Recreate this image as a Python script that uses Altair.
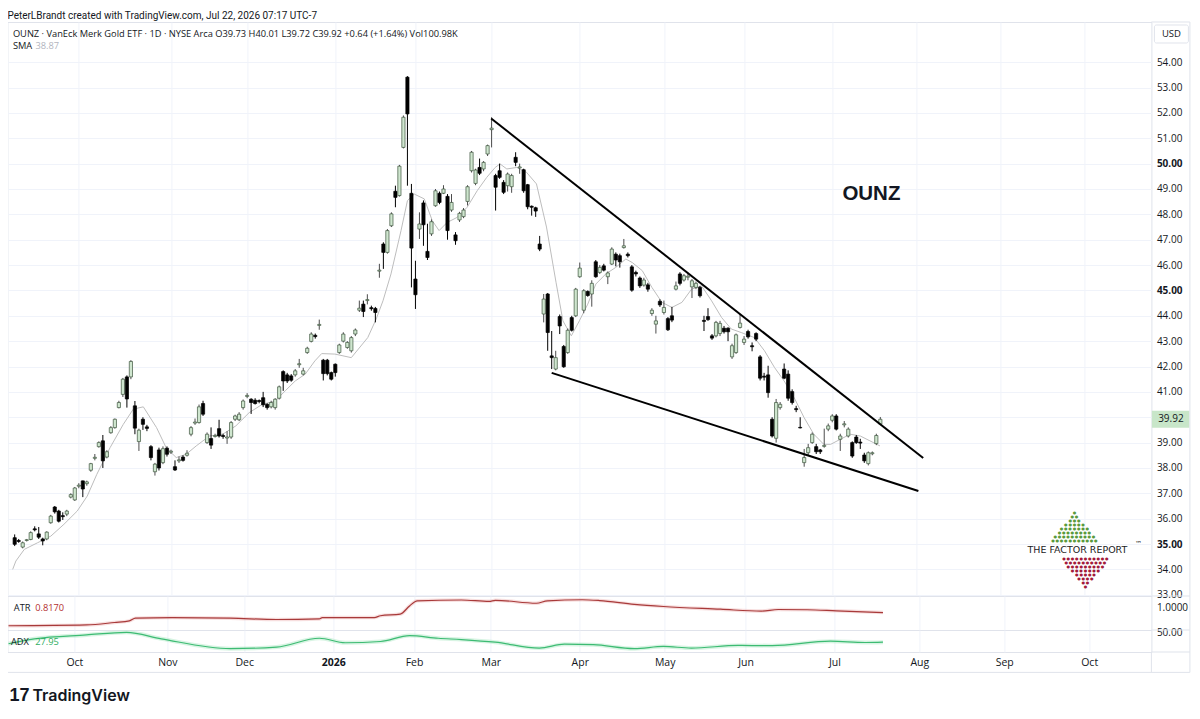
import altair as alt
import pandas as pd

# ---------------- data ----------------
FIRST_BAR = -16  # bar index; 0 = first trading day of October 2025

opens = [
    35.25, 35.14, 34.88, 35.14, 35.18, 35.60, 35.40, 35.20, 35.20, 35.84,
    36.46, 36.30, 36.12, 36.18, 36.85, 36.74, 37.28, 37.49, 37.38, 37.91,
    38.38, 38.84, 39.07, 38.43, 39.39, 39.59, 40.38, 40.90, 41.59, 41.59,
    40.45, 39.04, 39.92, 39.62, 38.84, 37.85, 38.71, 38.21, 38.78, 38.62,
    38.05, 38.28, 38.43, 38.50, 39.33, 39.77, 39.79, 40.54, 39.00, 39.16,
    39.24, 39.55, 39.28, 39.18, 39.22, 39.92, 39.90, 40.38, 40.82, 40.71,
    40.67, 40.66, 40.77, 40.51, 40.41, 40.38, 40.75, 41.80, 41.67, 41.63,
    41.67, 42.07, 41.70, 42.55, 42.99, 43.23, 43.62, 42.25, 42.25, 41.76,
    42.09, 42.55, 43.00, 42.75, 42.62, 43.28, 44.22, 44.46, 44.60, 44.32,
    44.29, 45.76, 46.83, 46.50, 47.55, 48.91, 48.74, 50.64, 53.41, 48.83,
    45.45, 47.42, 48.45, 46.54, 47.23, 48.34, 48.83, 48.83, 48.71, 48.17,
    47.19, 47.78, 47.91, 48.51, 49.72, 49.22, 49.85, 49.79, 50.38, 51.34,
    49.53, 49.72, 49.26, 49.13, 49.09, 50.25, 49.83, 49.76, 49.17, 48.32,
    48.26, 46.83, 44.07, 44.86, 42.42, 41.90, 43.97, 42.79, 42.55, 43.93,
    44.00, 45.54, 44.22, 44.96, 44.86, 46.13, 45.71, 45.97, 45.54, 46.04,
    46.43, 46.37, 46.69, 46.43, 45.93, 45.71, 45.49, 45.21, 45.22, 44.09,
    43.67, 44.57, 44.13, 43.89, 44.00, 45.05, 45.65, 45.41, 45.52, 45.14,
    45.12, 45.12, 43.82, 43.97, 43.21, 43.21, 43.30, 43.51, 43.51, 42.38,
    42.55, 43.54, 42.95, 43.38, 42.82, 43.30, 42.38, 41.62, 41.67, 39.92,
    39.17, 40.38, 41.90, 41.70, 41.01, 40.34, 39.60, 38.21, 38.60, 39.00,
    38.84, 38.71, 38.85, 39.53, 39.88, 40.05, 39.13, 39.70, 39.26, 39.00,
    39.22, 39.02, 38.51, 38.17, 38.56, 38.96, 39.73,
]
highs = [
    35.38, 35.20, 35.10, 35.20, 35.50, 35.70, 35.67, 35.25, 35.50, 36.15,
    36.50, 36.35, 36.25, 36.35, 37.00, 37.25, 37.40, 37.50, 37.50, 38.20,
    38.55, 39.05, 39.30, 38.70, 39.65, 39.95, 40.65, 41.55, 41.65, 42.25,
    40.64, 39.55, 40.00, 39.70, 38.90, 38.20, 38.80, 38.85, 38.85, 38.72,
    38.30, 38.45, 38.50, 38.70, 39.65, 39.95, 40.50, 40.65, 39.40, 39.60,
    39.35, 39.90, 39.35, 39.45, 39.85, 40.10, 40.20, 40.70, 40.95, 40.75,
    40.75, 40.70, 41.00, 40.55, 40.65, 40.75, 41.25, 41.85, 41.75, 41.70,
    41.90, 42.30, 41.95, 42.78, 43.35, 43.30, 43.85, 42.30, 42.30, 41.80,
    42.12, 42.90, 43.35, 43.00, 43.20, 43.50, 44.60, 44.60, 44.85, 44.40,
    44.35, 46.05, 46.90, 47.42, 48.08, 49.13, 49.95, 51.90, 53.45, 49.20,
    46.17, 48.08, 48.55, 47.63, 47.80, 49.00, 48.90, 49.15, 48.80, 48.80,
    47.30, 48.10, 48.25, 49.15, 50.50, 49.80, 50.20, 50.10, 50.75, 51.83,
    49.60, 50.00, 49.35, 49.65, 49.60, 50.45, 50.00, 49.80, 49.20, 48.35,
    48.30, 47.15, 44.86, 44.90, 43.40, 42.62, 44.05, 42.85, 43.50, 44.00,
    45.10, 46.10, 45.05, 45.00, 45.40, 46.20, 46.00, 46.05, 45.75, 46.70,
    46.50, 46.45, 47.03, 46.50, 46.00, 45.78, 45.55, 45.50, 45.30, 44.30,
    44.00, 44.65, 44.60, 43.95, 44.35, 45.35, 45.72, 45.65, 45.70, 45.45,
    45.35, 45.18, 44.00, 44.30, 43.28, 43.80, 43.80, 43.60, 43.55, 42.90,
    43.30, 44.07, 43.20, 43.45, 42.95, 43.35, 42.45, 41.75, 42.03, 40.00,
    40.72, 40.60, 42.12, 41.85, 41.10, 40.45, 40.00, 38.75, 38.95, 39.40,
    38.95, 38.75, 39.55, 39.75, 40.12, 40.12, 39.35, 39.85, 39.60, 39.05,
    39.30, 39.15, 38.60, 38.65, 38.65, 39.35, 40.01,
]
lows = [
    34.92, 35.05, 34.83, 35.10, 35.15, 35.50, 35.20, 34.95, 35.15, 35.80,
    36.20, 35.85, 35.95, 36.10, 36.80, 36.70, 37.20, 36.85, 37.30, 37.85,
    38.30, 38.80, 38.00, 38.38, 39.35, 39.55, 40.35, 40.80, 40.38, 41.50,
    39.33, 38.67, 39.50, 39.45, 38.30, 37.70, 37.90, 38.15, 38.45, 38.55,
    37.88, 38.20, 38.25, 38.45, 39.25, 39.70, 39.75, 40.05, 38.95, 38.75,
    39.20, 39.20, 39.15, 38.95, 39.15, 39.85, 39.85, 40.30, 40.75, 40.13,
    40.50, 40.55, 40.40, 40.30, 40.35, 40.30, 40.70, 41.04, 41.35, 41.40,
    41.60, 41.95, 41.65, 42.50, 42.95, 43.10, 43.45, 41.45, 41.65, 41.45,
    41.60, 42.50, 42.95, 42.70, 42.55, 43.20, 44.15, 43.95, 44.45, 44.20,
    43.74, 45.50, 45.85, 46.45, 47.50, 48.28, 48.70, 50.60, 49.13, 45.12,
    44.27, 47.03, 46.76, 46.20, 47.15, 48.30, 48.40, 48.80, 47.00, 48.10,
    46.80, 47.70, 47.85, 48.35, 49.65, 49.15, 49.55, 49.70, 50.30, 50.64,
    48.15, 49.40, 48.80, 48.90, 48.85, 49.90, 49.60, 48.85, 48.20, 47.95,
    47.90, 46.55, 43.74, 42.62, 41.90, 41.85, 43.28, 41.95, 42.50, 43.38,
    43.95, 45.50, 44.10, 44.75, 44.36, 45.50, 45.65, 45.75, 45.25, 46.00,
    45.95, 45.90, 46.65, 46.30, 44.95, 45.55, 45.10, 45.15, 44.95, 44.00,
    43.30, 44.35, 44.05, 43.40, 43.75, 45.00, 45.20, 45.35, 45.40, 44.70,
    45.05, 44.72, 43.40, 43.80, 43.05, 43.15, 43.20, 43.30, 43.00, 42.30,
    42.50, 43.50, 42.85, 43.10, 42.60, 43.00, 41.45, 41.45, 40.77, 39.20,
    39.00, 40.30, 41.50, 40.65, 40.50, 40.20, 39.56, 38.05, 38.50, 38.95,
    38.55, 38.55, 38.80, 39.45, 39.80, 39.48, 38.67, 39.60, 39.20, 38.40,
    38.95, 38.75, 38.20, 38.10, 38.50, 38.90, 39.72,
]
closes = [
    34.99, 35.10, 35.05, 35.17, 35.45, 35.56, 35.27, 35.12, 35.47, 36.10,
    36.27, 35.90, 36.08, 36.30, 36.95, 37.21, 37.32, 37.17, 37.45, 38.17,
    38.42, 39.00, 38.28, 38.64, 39.59, 39.92, 40.58, 41.50, 40.72, 42.20,
    39.57, 39.49, 39.72, 39.56, 38.41, 38.15, 38.00, 38.76, 38.54, 38.66,
    37.92, 38.32, 38.30, 38.58, 39.59, 39.81, 40.41, 40.12, 39.33, 38.90,
    39.28, 39.26, 39.24, 39.22, 39.79, 40.05, 40.12, 40.64, 40.86, 40.58,
    40.54, 40.62, 40.49, 40.38, 40.58, 40.71, 41.20, 41.43, 41.43, 41.46,
    41.83, 42.11, 41.83, 42.72, 43.28, 43.18, 43.66, 41.72, 41.72, 41.50,
    41.76, 42.85, 43.28, 42.95, 43.14, 43.44, 44.30, 44.17, 44.64, 44.28,
    44.13, 45.80, 46.50, 47.36, 48.02, 48.67, 49.90, 51.83, 51.96, 46.67,
    44.83, 47.62, 47.59, 46.30, 47.71, 48.93, 48.47, 49.00, 47.36, 48.47,
    46.96, 48.04, 48.17, 49.09, 50.45, 49.75, 49.62, 50.05, 50.71, 51.40,
    49.07, 49.46, 48.87, 49.59, 49.53, 50.05, 49.87, 48.93, 48.30, 48.28,
    48.13, 46.63, 44.66, 43.34, 42.35, 42.35, 43.60, 41.99, 43.43, 43.43,
    45.05, 45.88, 44.99, 44.80, 45.28, 45.54, 45.91, 45.80, 45.69, 46.63,
    46.20, 46.13, 46.76, 46.37, 45.01, 45.65, 45.18, 45.41, 45.05, 44.22,
    43.80, 44.43, 44.33, 43.45, 43.83, 45.18, 45.28, 45.58, 45.56, 45.38,
    45.28, 44.79, 43.78, 43.85, 43.12, 43.74, 43.70, 43.37, 43.37, 42.82,
    43.25, 43.71, 43.08, 43.17, 42.78, 43.08, 41.54, 41.58, 40.97, 39.26,
    40.58, 40.51, 41.54, 40.75, 40.58, 40.30, 39.58, 38.41, 38.80, 39.33,
    38.64, 38.64, 38.89, 39.66, 40.05, 39.53, 39.26, 39.74, 39.53, 38.47,
    39.00, 38.98, 38.28, 38.60, 38.60, 39.28, 39.92,
]

# SMA (bar position, value)
sma_k = [-16.5, -15.7, -13.6, -10.3, -7.0, -3.7, -0.4, 2.1, 4.5, 7.8,
         11.1, 13.6, 16.1, 19.4, 21.8, 24.3, 26.8, 29.3, 32.6, 35.9,
         39.2, 42.5, 45.8, 49.0, 51.5, 54.0, 56.5, 58.9, 60.6, 63.9,
         68.0, 72.1, 74.2, 75.9, 77.9, 80.4, 82.0, 83.7, 86.2, 88.2,
         89.9, 91.9, 94.4, 96.9, 99.4, 101.8, 103.9, 105.1, 106.8, 109.3,
         111.7, 114.2, 116.7, 119.1, 120.8, 122.9, 124.9, 127.0, 129.0, 131.5,
         134.0, 136.5, 138.1, 140.6, 143.0, 145.5, 148.0, 150.5, 152.9, 155.4,
         157.9, 160.4, 162.8, 165.3, 168.6, 171.1, 173.6, 176.0, 178.5, 181.0,
         183.4, 185.9, 187.6, 190.0, 192.5, 195.0, 197.4, 199.9]
sma_v = [34.00, 34.33, 34.79, 35.05, 35.31, 35.78, 36.30, 36.89, 37.75, 38.80,
         39.72, 40.32, 40.41, 39.59, 38.80, 38.41, 38.54, 38.87, 39.26, 39.33,
         39.66, 40.18, 40.51, 40.64, 41.04, 41.43, 41.70, 42.22, 42.51, 42.49,
         42.35, 43.14, 43.87, 44.59, 45.65, 47.36, 48.54, 48.80, 48.61, 47.75,
         47.36, 47.68, 47.88, 48.28, 48.93, 49.46, 49.85, 49.99, 49.79, 49.85,
         49.66, 49.20, 47.50, 45.30, 43.80, 43.21, 43.80, 44.46, 45.25, 45.65,
         45.91, 46.24, 46.10, 45.78, 45.12, 44.53, 44.33, 44.53, 45.05, 45.18,
         44.59, 43.93, 43.48, 43.34, 43.14, 42.62, 41.96, 41.43, 40.77, 39.98,
         39.33, 38.93, 38.93, 39.13, 39.33, 39.26, 39.07, 38.87]

atr_k = [-16.3, 3.0, 9.9, 13.6, 15.1, 24.2, 38.6, 50.0, 60.6, 61.3,
         74.2, 75.7, 80.6, 82.9, 84.8, 95.7, 102.6, 104.1, 114.3, 117.0,
         125.6, 129.9, 138.5, 145.7, 159.8, 169.9, 174.1, 181.3, 188.5, 200.0]
atr_v = [0.33, 0.36, 0.45, 0.51, 0.61, 0.63, 0.61, 0.56, 0.58, 0.63,
         0.63, 0.70, 0.76, 1.06, 1.25, 1.28, 1.23, 1.27, 1.16, 1.25,
         1.29, 1.26, 1.12, 1.04, 0.94, 0.87, 0.93, 0.92, 0.88, 0.817]

adx_k = [-16.3, -9.9, 3.0, 12.9, 21.5, 38.6, 50.0, 60.6, 67.0, 75.7,
         82.9, 90.0, 95.7, 104.1, 115.0, 121.2, 128.4, 138.5, 145.7, 152.6,
         164.2, 172.6, 187.0, 195.6, 200.0]
adx_v = [24.5, 35.5, 44.3, 50.0, 35.5, 13.5, 17.0, 36.8, 26.7, 29.5,
         42.7, 36.8, 33.9, 28.0, 14.8, 23.6, 22.3, 13.5, 18.5, 14.8,
         20.7, 20.1, 30.2, 27.3, 27.95]

# falling-wedge trend lines drawn on the chart
upper_k = [102.9, 210.7]
upper_p = [51.78, 38.39]
lower_k = [118.0, 209.5]
lower_p = [41.75, 37.09]

month_pos = [0, 23, 42, 64, 84, 103, 125, 146, 166, 188, 209, 230, 251]
month_lbl = ["Oct", "Nov", "Dec", "2026", "Feb", "Mar", "Apr", "May", "Jun",
             "Jul", "Aug", "Sep", "Oct"]
price_ticks = list(range(33, 55))

# ---------------- style ----------------
FONT = "Open Sans"
TXT = "#131722"
GRID = "#f0f3fa"
BORDER = "#e0e3eb"
UP_FILL = "#cfe6cf"
UP_EDGE = "#3d553d"
DOWN = "#000000"

W = 1144
H_PRICE = 574
H_ATR = 34
H_ADX = 22
RIGHT = 1182.5

bars = pd.DataFrame({
    "k": list(range(FIRST_BAR, FIRST_BAR + len(opens))),
    "o": opens, "h": highs, "l": lows, "c": closes,
})
sma = pd.DataFrame({"k": sma_k, "v": sma_v})
atr = pd.DataFrame({"k": atr_k, "v": atr_v})
adx = pd.DataFrame({"k": adx_k, "v": adx_v})
trend = pd.DataFrame({
    "k": upper_k + lower_k,
    "p": upper_p + lower_p,
    "line": ["upper"] * len(upper_k) + ["lower"] * len(lower_k),
})
one = pd.DataFrame({"a": [0]})

xscale = alt.Scale(domain=[-16.57, 266.39], nice=False, zero=False)
x_grid_axis = alt.Axis(values=month_pos, grid=True, gridColor=GRID, labels=False,
                       ticks=False, domain=False, title=None)
lbl_expr = "[" + ",".join("'%s'" % m for m in month_lbl) + "][indexof([" + \
    ",".join(str(p) for p in month_pos) + "], datum.value)]"
x_label_axis = alt.Axis(
    values=month_pos, grid=True, gridColor=GRID, ticks=False, domain=False,
    labelExpr=lbl_expr, labelPadding=11, labelBaseline="middle",
    labelFont=FONT, labelFontSize=10.5, labelColor=TXT, labelFlush=False,
    labelOverlap=False, title=None,
    labelFontWeight={"condition": {"test": "datum.value == 64", "value": "bold"},
                     "value": "normal"},
)


def X(axis, field="k"):
    return alt.X(f"{field}:Q", scale=xscale, axis=axis)


yscale_p = alt.Scale(domain=[32.951, 55.585], nice=False, zero=False)
y_price_axis = alt.Axis(
    orient="right", values=price_ticks, grid=True, gridColor=GRID, ticks=False,
    domain=False, labelPadding=5, labelFont=FONT, labelFontSize=10,
    labelColor=TXT, labelFlush=False, labelOverlap=False, title=None,
    labelExpr="datum.value == 40 ? '' : format(datum.value, '.2f')",
    labelFontWeight={"condition": {"test": "datum.value % 5 == 0", "value": "bold"},
                     "value": "normal"},
)


def YP(field):
    return alt.Y(f"{field}:Q", scale=yscale_p, axis=y_price_axis)


up = alt.datum.c >= alt.datum.o


def text_layer(txt, x, y, size=10, color=TXT, weight="normal", align="left",
               font=FONT, baseline="middle"):
    return alt.Chart(one).mark_text(
        align=align, baseline=baseline, font=font, fontSize=size,
        fontWeight=weight, color=color,
    ).encode(x=alt.value(x), y=alt.value(y), text=alt.value(txt))


def hrule(x1, x2, y, color=BORDER):
    return alt.Chart(one).mark_rule(color=color, strokeWidth=1).encode(
        x=alt.value(x1), x2=alt.value(x2), y=alt.value(y))


def vrule(x, y1, y2, color=BORDER):
    return alt.Chart(one).mark_rule(color=color, strokeWidth=1).encode(
        x=alt.value(x), y=alt.value(y1), y2=alt.value(y2))


# ---------------- price pane ----------------
sma_line = alt.Chart(sma).mark_line(color="#bdbdbd", strokeWidth=1).encode(
    x=X(x_grid_axis), y=YP("v"))
wicks = alt.Chart(bars).mark_rule(strokeWidth=1).encode(
    x=X(x_grid_axis), y=YP("l"), y2="h:Q",
    color=alt.condition(up, alt.value("#4b4b4b"), alt.value(DOWN)))
bodies = alt.Chart(bars).mark_bar(size=3.2, strokeWidth=0.7).encode(
    x=X(x_grid_axis), y=YP("o"), y2="c:Q",
    fill=alt.condition(up, alt.value(UP_FILL), alt.value(DOWN)),
    stroke=alt.condition(up, alt.value(UP_EDGE), alt.value(DOWN)))
wedge = alt.Chart(trend).mark_line(color="#000000", strokeWidth=2).encode(
    x=X(x_grid_axis), y=YP("p"), detail="line:N")

last_close = closes[-1]
badge = alt.Chart(one).mark_rect(color="#c8e6c9").encode(
    x=alt.value(W + 0.5), x2=alt.value(W + 38),
    y=alt.Y(datum=last_close + 0.335, scale=yscale_p, axis=y_price_axis),
    y2=alt.Y2(datum=last_close - 0.335))
badge_txt = alt.Chart(one).mark_text(
    font=FONT, fontSize=10, color=TXT, align="center", baseline="middle").encode(
    x=alt.value(W + 19.5),
    y=alt.Y(datum=last_close, scale=yscale_p, axis=y_price_axis),
    text=alt.value(f"{last_close:.2f}"))

usd_box = alt.Chart(one).mark_rect(fill="white", stroke=BORDER, strokeWidth=1,
                                   cornerRadius=2).encode(
    x=alt.value(1147), x2=alt.value(1181), y=alt.value(3), y2=alt.value(21))
usd_txt = text_layer("USD", 1164, 12, size=9.5, align="center")

header = text_layer(
    "PeterLBrandt created with TradingView.com, Jul 22, 2026 07:17 UTC-7",
    0, -3.5, size=10, baseline="alphabetic", font="Roboto")
legend1 = text_layer(
    "OUNZ · VanEck Merk Gold ETF · 1D · NYSE Arca   O39.73  H40.01  L39.72  "
    "C39.92  +0.64 (+1.64%)  Vol100.98K", 5.5, 12, size=9.3)
legend2 = text_layer("SMA", 5.5, 24, size=9.3)
legend3 = text_layer("38.87", 28, 24, size=9.3, color="#b2b5be")
ounz = text_layer("OUNZ", 864, 172, size=20.5, weight="bold",
                  align="center", font="Liberation Sans")

# Factor Report logo (decoration): two dot pyramids and the wordmark
DOT = "●\u2009"
green_rows = [(1, 491), (2, 495), (3, 499), (5, 503), (7, 507), (8, 511),
              (10, 515), (11, 519)]
red_rows = [(11, 537), (10, 541), (9, 545), (7, 549), (5, 553), (4, 557),
            (2, 561), (1, 565)]
logo_layers = []
for n_dots, yy in green_rows:
    logo_layers.append(text_layer(DOT * n_dots, 1067, yy, size=4, color="#5a9a3c",
                                  align="center", font="DejaVu Sans"))
for n_dots, yy in red_rows:
    logo_layers.append(text_layer(DOT * n_dots, 1078, yy, size=4, color="#a31b3b",
                                  align="center", font="DejaVu Sans"))
logo_layers.append(text_layer("THE FACTOR REPORT", 1070, 528, size=9.5,
                              color="#222222", align="center", font="DejaVu Sans"))
logo_layers.append(text_layer("™", 1131, 522, size=7, color="#222222",
                              align="center", font="DejaVu Sans"))

price_frame = [hrule(W, RIGHT, 0), vrule(RIGHT, 0, H_PRICE)]

price = alt.layer(
    sma_line, wicks, bodies, wedge, badge, badge_txt, usd_box, usd_txt,
    header, legend1, legend2, legend3, ounz, *logo_layers, *price_frame,
).properties(width=W, height=H_PRICE)

# ---------------- ATR pane ----------------
yscale_atr = alt.Scale(domain=[0.173, 1.428], nice=False, zero=False)
y_atr_axis = alt.Axis(orient="right", values=[1.0], format=".4f", grid=False,
                      ticks=False, domain=False, labelPadding=5, labelFont=FONT,
                      labelFontSize=10, labelColor=TXT, labelFlush=False, title=None)
atr_glow = alt.Chart(atr).mark_line(color="#e8a0a0", strokeWidth=3.5, opacity=0.35,
                                    interpolate="monotone").encode(
    x=X(x_grid_axis), y=alt.Y("v:Q", scale=yscale_atr, axis=y_atr_axis))
atr_line = alt.Chart(atr).mark_line(color="#a83a3a", strokeWidth=1.2,
                                    interpolate="monotone").encode(
    x=X(x_grid_axis), y=alt.Y("v:Q", scale=yscale_atr, axis=y_atr_axis))
atr_c = alt.layer(
    atr_glow, atr_line,
    text_layer("ATR", 6.4, 12, size=9.3),
    text_layer("0.8170", 27.8, 12, size=9.3, color="#b3302f"),
    hrule(W, RIGHT, 0), vrule(RIGHT, 0, H_ATR),
).properties(width=W, height=H_ATR)

# ---------------- ADX pane ----------------
yscale_adx = alt.Scale(domain=[6.0, 55.3], nice=False, zero=False)
y_adx_axis = alt.Axis(orient="right", values=[50], format=".2f", grid=False,
                      ticks=False, domain=False, labelPadding=5, labelFont=FONT,
                      labelFontSize=10, labelColor=TXT, labelFlush=False, title=None)
adx_glow = alt.Chart(adx).mark_line(color="#a8e6c0", strokeWidth=4, opacity=0.45,
                                    interpolate="monotone").encode(
    x=X(x_label_axis), y=alt.Y("v:Q", scale=yscale_adx, axis=y_adx_axis))
adx_line = alt.Chart(adx).mark_line(color="#3dbb73", strokeWidth=1.2,
                                    interpolate="monotone").encode(
    x=X(x_label_axis), y=alt.Y("v:Q", scale=yscale_adx, axis=y_adx_axis))
AX_BOTTOM = H_ADX + 20.4
adx_c = alt.layer(
    adx_glow, adx_line,
    text_layer("ADX", 3.5, 11.7, size=9.3),
    text_layer("27.95", 27.8, 11.7, size=9.3, color="#2fae62"),
    hrule(W, RIGHT, 0), vrule(RIGHT, 0, AX_BOTTOM),
    hrule(0, RIGHT, AX_BOTTOM), vrule(0, H_ADX, AX_BOTTOM), vrule(W, H_ADX, AX_BOTTOM),
    hrule(W, RIGHT, H_ADX),
    text_layer("17", 2, 66, size=18, weight=900, font="Liberation Sans"),
    text_layer("TradingView", 25, 66, size=16, weight=600, font="Inter"),
).properties(width=W, height=H_ADX)

chart = alt.vconcat(price, atr_c, adx_c, spacing=0, bounds="flush").properties(
    padding={"left": -8.6, "top": 2, "right": 0, "bottom": 0},
).configure_view(stroke=BORDER, strokeWidth=1).resolve_scale(x="independent")

chart.save("out.html", embed_options={"renderer": "svg", "actions": False})
